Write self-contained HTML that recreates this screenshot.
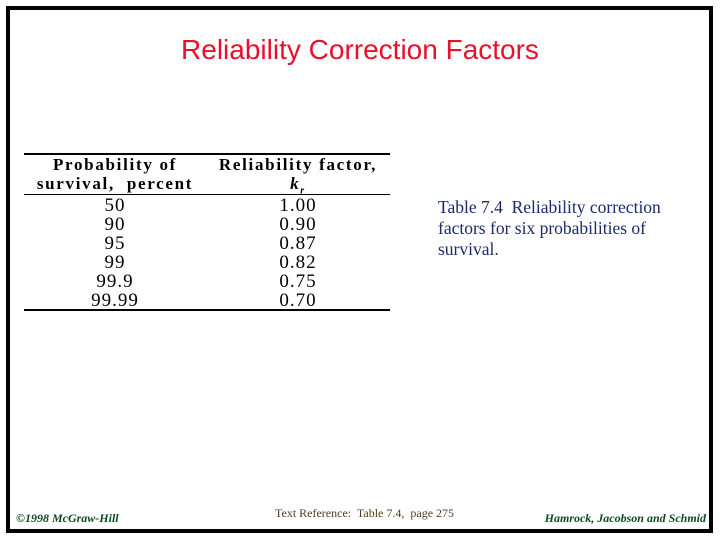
<!DOCTYPE html>
<html><head><style>
body{margin:0;width:720px;height:540px;background:#fff;position:relative;overflow:hidden;font-family:"Liberation Serif",serif}
.frame{position:absolute;left:6px;top:6px;width:699px;height:519px;border:4px solid #000}
.t{position:absolute;white-space:nowrap}
.line{position:absolute;left:24px;width:366px;background:#000}
.c1{position:absolute;left:24px;width:182px;text-align:center}
.c2{position:absolute;left:206px;width:184px;text-align:center}
.row{font-size:19px;line-height:19px;letter-spacing:1px}
.hd{font-weight:bold;font-size:17px;line-height:19px;letter-spacing:1.7px}
</style></head><body>
<div class="frame"></div>
<div class="t" style="left:0;width:720px;text-align:center;top:34px;font-family:'Liberation Sans',sans-serif;font-size:28px;color:#e8102a">Reliability Correction Factors</div>
<div class="line" style="top:153px;height:2px"></div>
<div class="line" style="top:194px;height:1px"></div>
<div class="line" style="top:309px;height:2px"></div>
<div class="c1 hd" style="top:155px">Probability of<br>survival,&nbsp; percent</div>
<div class="c2 hd" style="top:155px">Reliability factor,<br><i>k<sub style="font-size:10px">r</sub></i></div>
<div class="c1 row" style="top:196px">50<br>90<br>95<br>99<br>99.9<br>99.99</div>
<div class="c2 row" style="top:196px">1.00<br>0.90<br>0.87<br>0.82<br>0.75<br>0.70</div>
<div class="t" style="left:438px;top:197px;font-size:17.5px;line-height:21px;color:#1a2a6a">Table 7.4&nbsp; Reliability correction<br>factors for six probabilities of<br>survival.</div>
<div class="t" style="left:16px;top:511px;font-size:12px;font-style:italic;font-weight:bold;color:#0d4a1e">©1998 McGraw-Hill</div>
<div class="t" style="left:275px;top:506px;font-size:12px;color:#5a3a1a">Text Reference:&nbsp; Table 7.4,&nbsp; page 275</div>
<div class="t" style="right:14px;top:511px;font-size:12px;font-style:italic;font-weight:bold;color:#0d4a1e">Hamrock, Jacobson and Schmid</div>
</body></html>
